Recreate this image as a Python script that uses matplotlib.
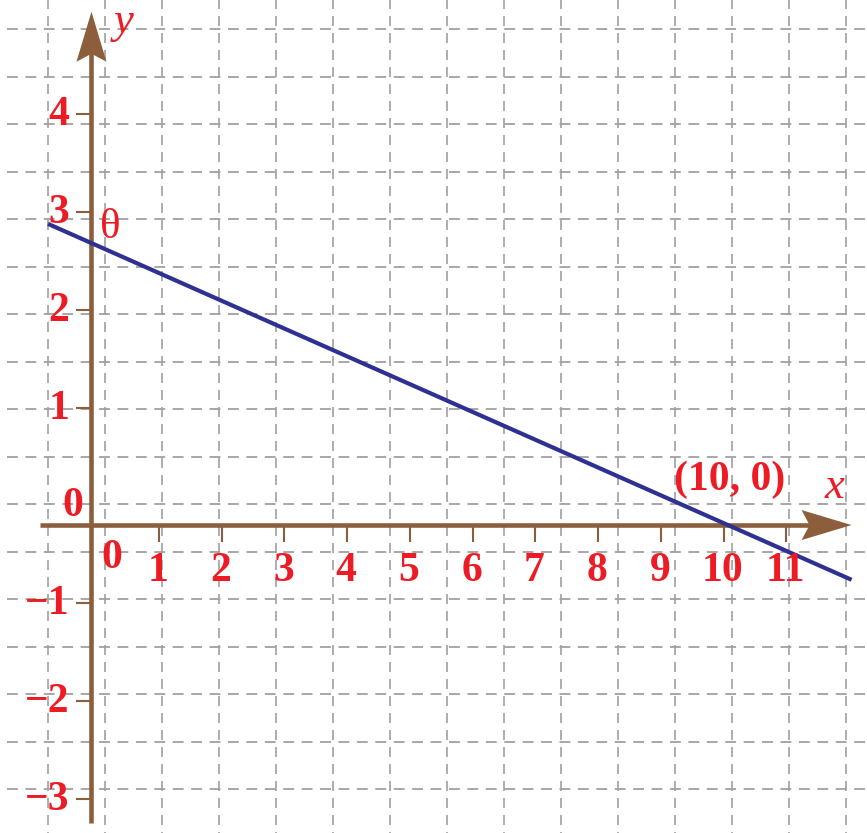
import numpy as np
import matplotlib.pyplot as plt
from matplotlib.patches import Polygon

# tick values on both axes
x_ticks = [1, 2, 3, 4, 5, 6, 7, 8, 9, 10, 11]
y_ticks = [-3, -2, -1, 1, 2, 3, 4]

# the straight line (data units)
line_x = [-0.77, 12.04]
line_y = [2.88, -0.76]

point_label = "(10, 0)"
angle_label = "θ"

BROWN = "#8C5E3B"
BLUE = "#2E3192"
RED = "#ED1C24"
GRID = "#A0A0A0"

W, H = 867, 833
XLIM = (-1.535, 12.286)
YLIM = (-3.349, 5.169)
sx = W / (XLIM[1] - XLIM[0])   # pixels per unit
sy = H / (YLIM[1] - YLIM[0])

x_axis_y = -0.2      # where the x-axis is drawn
y_axis_x = -0.077    # where the y-axis is drawn

serif = ["Liberation Serif", "DejaVu Serif"]

fig = plt.figure(figsize=(W / 100, H / 100), dpi=100)

# background grid, its own cell coordinates
bg = fig.add_axes([0, 0, 1, 1], zorder=0)
bg.set_xlim(-48.3 / 57, (W - 48.3) / 57)
bg.set_ylim((H - 29) / 47.5, -29 / 47.5)
bg.axis("off")
dash = (0, (6, 4.2))
for c in range(15):
    bg.plot([c, c], [-1, 18], color=GRID, lw=1.2, ls=dash)
for r in range(17):
    bg.plot([-0.725, 15], [r, r], color=GRID, lw=1.3, ls=dash)

ax = fig.add_axes([0, 0, 1, 1], zorder=1)
ax.set_xlim(*XLIM)
ax.set_ylim(*YLIM)
ax.patch.set_alpha(0)
ax.axis("off")


def arrow(tip, shape):
    pts = [(tip[0] + ox / sx, tip[1] + oy / sy) for ox, oy in shape]
    ax.add_patch(Polygon(pts, closed=True, color=BROWN, lw=0, zorder=3))


# x axis
x_tip = (12.04, x_axis_y)
ax.plot([-0.897, x_tip[0] - 30 / sx], [x_axis_y, x_axis_y], color=BROWN, lw=3.3,
        solid_capstyle="butt", zorder=3)
arrow(x_tip, [(0, 0), (-50, 15), (-42, 0), (-50, -15)])

# y axis
y_tip = (y_axis_x, 5.049)
ax.plot([y_axis_x, y_axis_x], [-3.243, y_tip[1] - 30 / sy], color=BROWN, lw=3.3,
        solid_capstyle="butt", zorder=3)
arrow(y_tip, [(0, 0), (15, -50), (0, -42), (-15, -50)])

# tick marks
ax.vlines(x_ticks, x_axis_y - 17 / sy, x_axis_y, color=BROWN, lw=1.5, zorder=3)
ax.hlines(y_ticks, y_axis_x - 15.5 / sx, y_axis_x, color=BROWN, lw=1.5, zorder=3)

# the line
ax.plot(line_x, line_y, color=BLUE, lw=3.0, solid_capstyle="butt", zorder=4)

lab = dict(color=RED, fontsize=30, fontweight="bold", family=serif, zorder=5)


def fmt(v):
    return str(v) if v >= 0 else "\u2212" + str(-v)


for t in x_ticks:
    ax.annotate(fmt(t), xy=(t, x_axis_y), xytext=(-1, -56), textcoords="offset pixels",
                ha="center", va="baseline", **lab)
ax.annotate("0", xy=(y_axis_x, x_axis_y), xytext=(20, -43), textcoords="offset pixels",
            ha="center", va="baseline", **lab)

for t in y_ticks:
    ax.annotate(fmt(t), xy=(y_axis_x, t), xytext=(-22, -11), textcoords="offset pixels",
                ha="right", va="baseline", **lab)
ax.annotate("0", xy=(y_axis_x, 0), xytext=(-8, -11), textcoords="offset pixels",
            ha="right", va="baseline", **lab)

ax.annotate(point_label, xy=(10, x_axis_y), xytext=(6, 35), textcoords="offset pixels",
            ha="center", va="baseline", **lab)

ax.annotate(angle_label, xy=(y_axis_x, 3), xytext=(18.5, -26), textcoords="offset pixels",
            ha="center", va="baseline", color=RED, fontsize=31, family=serif, zorder=5)

ax.annotate("y", xy=y_tip, xytext=(32, -21), textcoords="offset pixels",
            ha="center", va="baseline", color=RED, fontsize=32, fontstyle="italic",
            family=serif, zorder=5)
ax.annotate("x", xy=x_tip, xytext=(-17, 27), textcoords="offset pixels",
            ha="center", va="baseline", color=RED, fontsize=32, fontstyle="italic",
            family=serif, zorder=5)

fig.savefig("out.png", dpi=100)
